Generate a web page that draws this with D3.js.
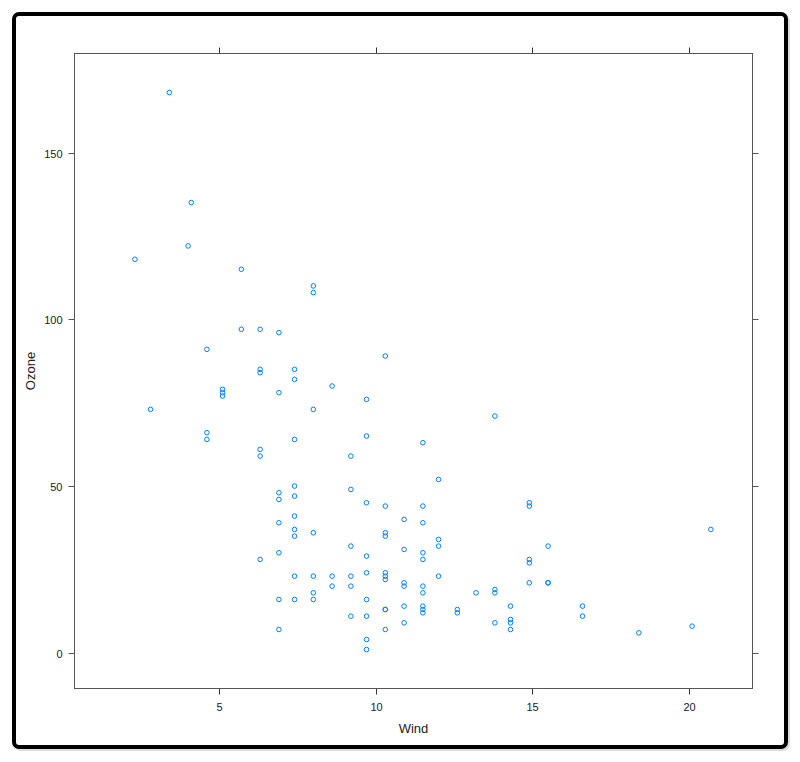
<!DOCTYPE html>
<html>
<head>
<meta charset="utf-8">
<title>Ozone vs Wind</title>
<script src="https://cdn.jsdelivr.net/npm/d3@7"></script>
<style>
  body { margin: 0; background: #fff; }
  svg { display: block; font-family: 'Liberation Sans', Arial, sans-serif; }
  .tick-label { font-size: 11px; fill: #222; }
  .axis-title { font-size: 13px; fill: #222; }
</style>
</head>
<body>
<div id="chart"></div>
<script>
// airquality: Ozone and Wind (null = NA)
var ozone = [41,36,12,18,null,28,23,19,8,null,7,16,11,14,18,14,34,6,30,11,1,11,4,32,null,null,null,23,45,115,37,null,null,null,null,null,null,29,null,71,39,null,null,23,null,null,21,37,20,12,13,null,null,null,null,null,null,null,null,null,null,135,49,32,null,64,40,77,97,97,85,null,10,27,null,7,48,35,61,79,63,16,null,null,80,108,20,52,82,50,64,59,39,9,16,78,35,66,122,89,110,null,null,44,28,65,null,22,59,23,31,44,21,9,null,45,168,73,null,76,118,84,85,96,78,73,91,47,32,20,23,21,24,44,21,28,9,13,46,18,13,24,16,13,23,36,7,14,30,null,14,18,20];
var wind = [7.4,8.0,12.6,11.5,14.3,14.9,8.6,13.8,20.1,8.6,6.9,9.7,9.2,10.9,13.2,11.5,12.0,18.4,11.5,9.7,9.7,16.6,9.7,12.0,16.6,14.9,8.0,12.0,14.9,5.7,7.4,8.6,9.7,16.1,9.2,8.6,14.3,9.7,6.9,13.8,11.5,10.9,9.2,8.0,13.8,11.5,14.9,20.7,9.2,11.5,10.3,6.3,1.7,4.6,6.3,8.0,8.0,10.3,11.5,14.9,8.0,4.1,9.2,9.2,10.9,4.6,10.9,5.1,6.3,5.7,7.4,8.6,14.3,14.9,14.9,14.3,6.9,10.3,6.3,5.1,11.5,6.9,9.7,11.5,8.6,8.0,8.6,12.0,7.4,7.4,7.4,9.2,6.9,13.8,7.4,6.9,7.4,4.6,4.0,10.3,8.0,8.6,11.5,11.5,11.5,9.7,11.5,10.3,6.3,7.4,10.9,10.3,15.5,14.3,12.6,9.7,3.4,8.0,5.7,9.7,2.3,6.3,6.3,6.9,5.1,2.8,4.6,7.4,15.5,10.9,10.3,10.9,9.7,14.9,15.5,6.3,10.9,11.5,6.9,13.8,10.3,10.3,8.0,12.6,9.2,10.3,10.3,16.6,6.9,13.2,14.3,8.0,11.5];
var xTicks = [5, 10, 15, 20];
var yTicks = [0, 50, 100, 150];

var width = 800, height = 762;
var pLeft = 74.5, pRight = 752.5, pTop = 53.5, pBottom = 688.5;
var tickLen = 6;

var svg = d3.select('#chart').append('svg')
  .attr('width', width)
  .attr('height', height);

// frame
svg.append('rect')
  .attr('x', 16).attr('y', 16)
  .attr('width', 772).attr('height', 733)
  .attr('rx', 5)
  .attr('fill', 'none')
  .attr('stroke', '#ddd')
  .attr('stroke-width', 4);
svg.append('rect')
  .attr('x', 14).attr('y', 14)
  .attr('width', 772).attr('height', 733)
  .attr('rx', 5)
  .attr('fill', '#fff')
  .attr('stroke', '#000')
  .attr('stroke-width', 4);

var points = [];
ozone.forEach(function(o, i) {
  if (o !== null) points.push({ wind: wind[i], ozone: o });
});

// lattice-style padding: 7% of the range on each side
var xr = d3.extent(wind), xp = (xr[1] - xr[0]) * 0.07;
var yr = d3.extent(points, function(d) { return d.ozone; }), yp = (yr[1] - yr[0]) * 0.07;

var x = d3.scaleLinear().domain([xr[0] - xp, xr[1] + xp]).range([pLeft, pRight]);
var y = d3.scaleLinear().domain([yr[0] - yp, yr[1] + yp]).range([pBottom, pTop]);

var g = svg.append('g');

// ticks on all four sides, labels left and bottom
xTicks.forEach(function(t) {
  var px = Math.round(x(t)) + 0.5;
  g.append('line').attr('x1', px).attr('x2', px).attr('y1', pBottom).attr('y2', pBottom + tickLen).attr('stroke', '#333');
  g.append('line').attr('x1', px).attr('x2', px).attr('y1', pTop).attr('y2', pTop - tickLen).attr('stroke', '#333');
  g.append('text').attr('class', 'tick-label')
    .attr('x', px).attr('y', pBottom + 22)
    .attr('text-anchor', 'middle').text(t);
});
yTicks.forEach(function(t) {
  var py = Math.round(y(t)) + 0.5;
  g.append('line').attr('x1', pLeft - tickLen).attr('x2', pLeft).attr('y1', py).attr('y2', py).attr('stroke', '#555');
  g.append('line').attr('x1', pRight).attr('x2', pRight + tickLen).attr('y1', py).attr('y2', py).attr('stroke', '#555');
  g.append('text').attr('class', 'tick-label')
    .attr('x', pLeft - 12).attr('y', py + 4)
    .attr('text-anchor', 'end').text(t);
});

g.append('rect')
  .attr('x', pLeft).attr('y', pTop)
  .attr('width', pRight - pLeft).attr('height', pBottom - pTop)
  .attr('fill', 'none')
  .attr('stroke', '#555');

g.selectAll('circle.pt')
  .data(points)
  .enter()
  .append('circle')
  .attr('class', 'pt')
  .attr('cx', function(d) { return x(d.wind); })
  .attr('cy', function(d) { return y(d.ozone); })
  .attr('r', 2.3)
  .attr('fill', 'none')
  .attr('stroke', '#0080ff')
  .attr('stroke-width', 1);

g.append('text').attr('class', 'axis-title')
  .attr('x', (pLeft + pRight) / 2).attr('y', 733)
  .attr('text-anchor', 'middle').text('Wind');
g.append('text').attr('class', 'axis-title')
  .attr('transform', 'translate(35,' + ((pTop + pBottom) / 2) + ') rotate(-90)')
  .attr('text-anchor', 'middle').text('Ozone');
</script>
</body>
</html>
